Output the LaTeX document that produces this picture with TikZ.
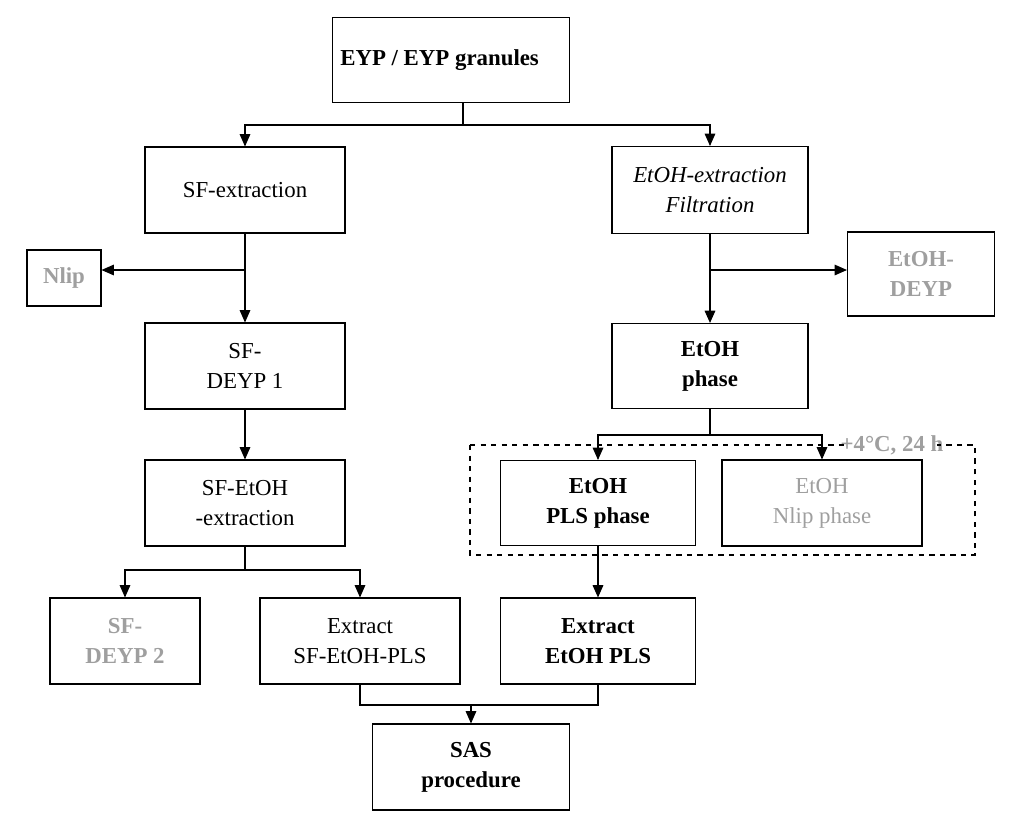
\documentclass[tikz,border=0pt]{standalone}
\usepackage{fontspec}
\setmainfont{Liberation Serif}
\usetikzlibrary{arrows.meta}
\tikzset{
  box/.style={rectangle, draw=black, line width=0.6pt, align=center, inner sep=2pt, font=\fontsize{13}{17}\selectfont},
  wide/.style={box, minimum width=4cm, minimum height=1.72cm},
  bx/.style={box, font=\fontsize{13}{17}\selectfont\bfseries},
  it/.style={box, font=\fontsize{13}{17}\selectfont\itshape},
  grey/.style={text=gray!75},
  arrow/.style={line width=0.6pt, -{Triangle[length=7pt,width=6pt]}},
  line/.style={line width=0.6pt}
}
\begin{document}
\begin{tikzpicture}[x=0.02cm, y=-0.02cm]
  \useasboundingbox (0,0) rectangle (1009,823);
  \node (eyp) [bx, minimum width=4.74cm, minimum height=1.7cm] at (451,60) {EYP / EYP granules\hspace{1em}};
  \node (sfext) [it, wide] at (245,190) {SF-extraction};
  \node (etext) [it, minimum width=3.92cm, minimum height=1.74cm] at (710,190) {EtOH-extraction\\Filtration\hspace{1.5em}};
  \node (nlip) [bx, grey, minimum width=1.48cm, minimum height=1.12cm] at (64,278) {Nlip};
  \node (etdeyp) [bx, grey, minimum width=2.94cm, minimum height=1.68cm] at (921,274) {EtOH-\\DEYP};
  \node (sfdeyp1) [bx, wide] at (245,366) {SF-\\DEYP 1};
  \node (etphase) [bx, minimum width=3.92cm, minimum height=1.7cm] at (710,366) {EtOH\\phase};
  \node (sfetext) [it, wide] at (245,503) {SF-EtOH\\-extraction};
  \node (plsphase) [bx, minimum width=3.9cm, minimum height=1.7cm] at (598,503) {EtOH\\PLS phase};
  \node (nlipphase) [bx, grey, wide] at (822,503) {EtOH\\Nlip phase};
  \node (sfdeyp2) [bx, grey, minimum width=3cm, minimum height=1.72cm] at (125,641) {SF-\\DEYP 2};
  \node (exsf) [bx, wide] at (360,641) {Extract\\SF-EtOH-PLS};
  \node (exet) [bx, minimum width=3.9cm, minimum height=1.72cm] at (598,641) {Extract\\EtOH PLS};
  \node (sas) [bx, minimum width=3.94cm, minimum height=1.72cm] at (471,767) {SAS\\procedure};
  \node (cond) [font=\fontsize{13}{17}\selectfont\bfseries, grey] at (892,445) {+4°C, 24 h};
  \draw [line, dashed] (470,445) -- (470,555) -- (975,555) -- (975,445) -- (937,445);
  \draw [line, dashed] (470,445) -- (845,445);
  % branches
  \coordinate (t1) at (463,125);
  \draw [line] (eyp.south -| t1) -- (t1);
  \draw [arrow] (t1) -| (sfext.north);
  \draw [arrow] (t1) -| (etext.north);
  \draw [arrow] (sfext) -- (sfdeyp1);
  \draw [arrow] (245,270) -- (nlip.east |- 0,270);
  \draw [arrow, line width=0.9pt] (etext) -- (etphase);
  \draw [arrow] (710,270) -- (etdeyp.west |- 0,270);
  \draw [arrow] (sfdeyp1) -- (sfetext);
  \coordinate (t2) at (710,435);
  \draw [line] (etphase.south) -- (t2);
  \draw [arrow] (t2) -| (plsphase.north);
  \draw [arrow] (t2) -| (nlipphase.north);
  \coordinate (t3) at (245,570);
  \draw [line] (sfetext.south) -- (t3);
  \draw [arrow] (t3) -| (sfdeyp2.north);
  \draw [arrow] (t3) -| (exsf.north);
  \draw [arrow, line width=0.9pt] (plsphase) -- (exet);
  \draw [line] (exsf.south) |- (exet.south |- 0,705) -- (exet.south);
  \draw [arrow] (sas.north |- 0,705) -- (sas.north);
\end{tikzpicture}
\end{document}
